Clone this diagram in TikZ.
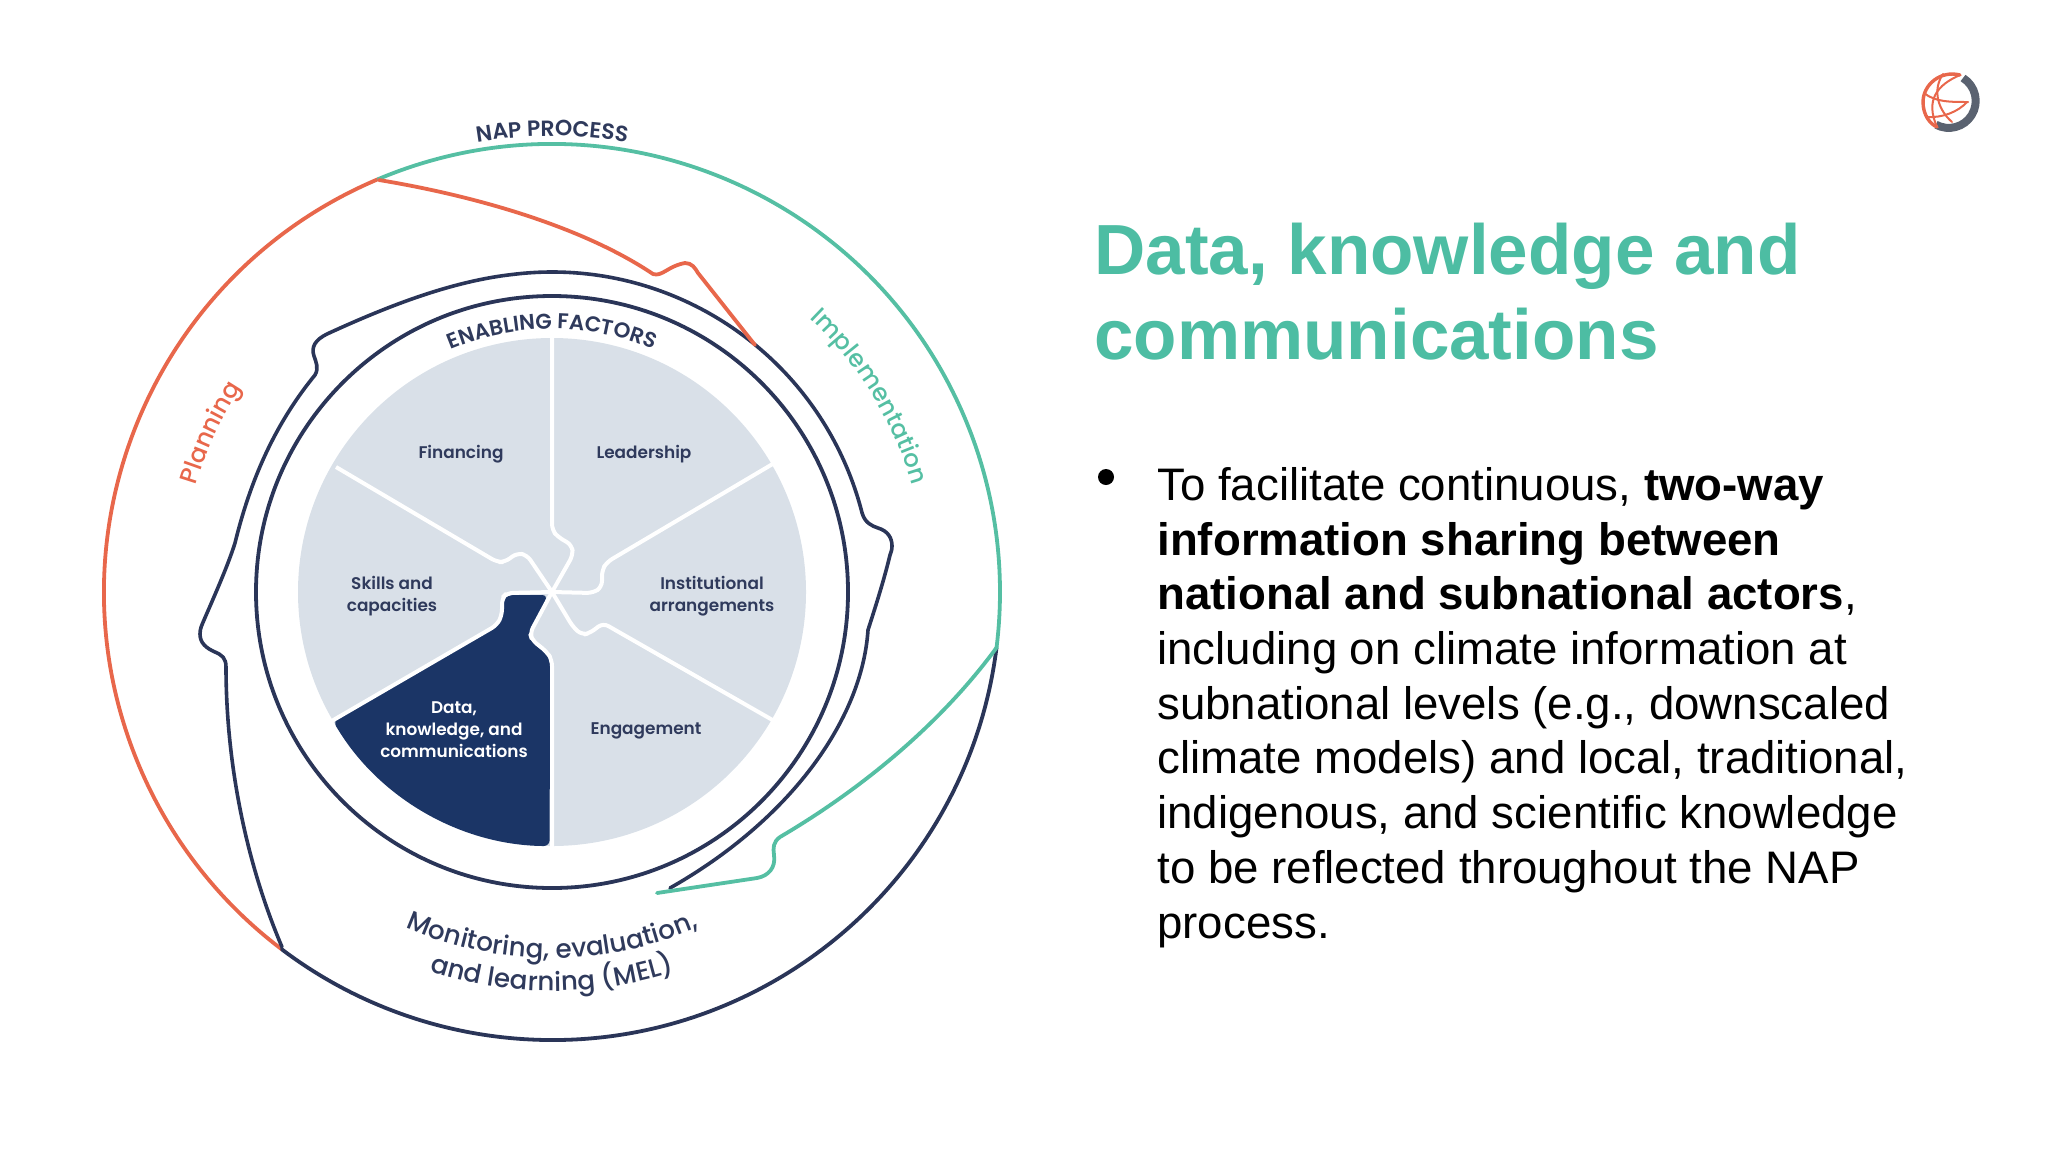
\documentclass[tikz,border=0pt]{standalone}
\usepackage{fontspec}
\usetikzlibrary{decorations.text}
\setmainfont{Liberation Sans}
\newfontfamily\popf{Poppins SemiBold}
\newfontfamily\popm{Poppins Medium}
\definecolor{navyline}{HTML}{2A3558}
\definecolor{navyfill}{HTML}{1B3566}
\definecolor{orangeline}{HTML}{E8674B}
\definecolor{tealline}{HTML}{55BFA3}
\definecolor{headteal}{HTML}{4DBDA3}
\definecolor{piefill}{HTML}{D9E0E8}
\definecolor{labelcol}{HTML}{2F3A5C}
\definecolor{logogray}{HTML}{5A6270}
\newcommand\fsSmall{\popf\fontsize{8.45}{11}\selectfont}
\newcommand\fsCap{\popf\fontsize{10.7}{12}\selectfont}
\newcommand\fsNap{\popf\fontsize{11}{12}\selectfont}
\newcommand\fsBig{\popm\fontsize{12.2}{14}\selectfont}
\newcommand\fsMel{\popm\fontsize{13.1}{14}\selectfont}
\tikzset{
  navy/.style={draw=navyline,line width=1.9pt,line join=round,line cap=round},
  headline/.style={navy,line width=1.8pt},
  orangel/.style={draw=orangeline,line width=1.9pt,line join=round,line cap=round},
  teall/.style={draw=tealline,line width=1.9pt,line join=round,line cap=round},
  divider/.style={draw=white,line width=2pt,line join=round},
  seclabel/.style={font=\fsSmall,text=labelcol,align=center,inner sep=0pt},
  logoline/.style={draw=orangeline,line width=1pt,line cap=round},
}
\begin{document}
\begin{tikzpicture}[x=0.5pt,y=-0.5pt]
\useasboundingbox (0,0) rectangle (2048,1152);
\coordinate (c) at (552,592);
% pie
\fill[piefill] (c) circle[radius=254];
\fill[navyfill,rounded corners=3pt] (548,595) -- (507,595) -- (503,600) -- (503,615) -- (497,626) -- (333,721) arc[start angle=149.5,end angle=90.5,radius=254] -- (550,660) -- (547,652) -- (532,640) -- (530,633) -- cycle;
% dividers
\draw[divider,rounded corners=3pt] (552,330) -- (552,530) -- (558,537) -- (572,545) -- (573,555) -- (552,592) -- (530,633) -- (532,640) -- (547,652) -- (552,660) -- (552,850);
\draw[divider,rounded corners=3pt] (336,467) -- (497,562) -- (505,562) -- (517,553) -- (527,555) -- (552,592) -- (573,627) -- (582,635) -- (590,633) -- (603,623) -- (776,722);
\draw[divider,rounded corners=3pt] (776,462) -- (607,562) -- (602,570) -- (602,587) -- (593,593) -- (552,592) -- (507,593) -- (502,598) -- (502,615) -- (497,625) -- (330,722);
% rings
\draw[navy] (c) circle[radius=296];
\draw[orangel] (c) ++(-112.8:448) arc[start angle=-112.8,end angle=-232.9,radius=448];
\draw[teall] (c) ++(-112.8:448) arc[start angle=-112.8,end angle=7.2,radius=448];
\draw[navy] (c) ++(7.2:448) arc[start angle=7.2,end angle=127.1,radius=448];
% head outline
\draw[headline] (282,947) .. controls (245,860) and (226,760) .. (226,667)
  .. controls (226,658) and (222,655) .. (215,652)
  .. controls (206,648) and (200,643) .. (200,634)
  .. controls (200,628) and (202,625) .. (204,620)
  .. controls (217,590) and (228,565) .. (235,543)
  .. controls (248,490) and (270,430) .. (315,375)
  .. controls (319,368) and (316,362) .. (314,356)
  .. controls (311,347) and (315,340) .. (327,334)
  .. controls (390,305) and (453,281) .. (513,274.4)
  arc[start angle=-97,end angle=-14.3,radius=320]
  .. controls (865,523) and (872,526) .. (878,528)
  .. controls (888,531) and (892,538) .. (892,546)
  .. controls (892,550) and (891,552) .. (890,555)
  .. controls (884,580) and (876,605) .. (868,630)
  .. controls (862,720) and (790,820) .. (670,888);
% orange return
\draw[orangel] (379,180) .. controls (470,195) and (580,225) .. (653,274) .. controls (662,277) and (668,266) .. (685,263) .. controls (692,263) and (695,268) .. (698,273) -- (755,345);
% teal return
\draw[teall] (997,647) .. controls (940,725) and (860,790) .. (780,837)
  .. controls (773,842) and (773,848) .. (774,855)
  .. controls (776,868) and (768,876) .. (757,878) -- (657,893);
% labels in pie
\node[seclabel] (financing) at (461,454) {Financing};
\node[seclabel] (leadership) at (644,454) {Leadership};
\node[seclabel] (skills) at (392,596) {Skills and\\capacities};
\node[seclabel] (instit) at (712,596) {Institutional\\arrangements};
\node[seclabel] (engage) at (646,731) {Engagement};
\node[seclabel,text=white] (datak) at (454,730) {Data,\\knowledge, and\\communications};
% curved labels
\path[decorate,decoration={text along path,text align=center,text={|\fsCap\color{labelcol}|ENABLING FACTORS}}] (c) ++(-140:263) arc[start angle=-140,end angle=-40,radius=263];
\path[decorate,decoration={text along path,text align=center,text={|\fsNap\color{labelcol}|NAP PROCESS}}] (c) ++(-130:456) arc[start angle=-130,end angle=-50,radius=456];
\path[decorate,decoration={text along path,text align=center,text={|\fsBig\color{orangeline}|Planning}}] (c) ++(-190:372) arc[start angle=-190,end angle=-120,radius=372];
\path[decorate,decoration={text along path,text align=center,text={|\fsBig\color{tealline}|Implementation}}] (c) ++(-71.6:376) arc[start angle=-71.6,end angle=8.4,radius=376];
\path[decorate,decoration={text along path,text align=center,text={|\fsMel\color{labelcol}|Monitoring, evaluation,}}] (c) ++(140:366) arc[start angle=140,end angle=40,radius=366];
\path[decorate,decoration={text along path,text align=center,text={|\fsMel\color{labelcol}|and learning (MEL)}}] (c) ++(130:399) arc[start angle=130,end angle=50,radius=399];
% right column
\node[anchor=north west,inner sep=0pt,align=left,text=headteal,font=\bfseries\fontsize{35.5}{42.5}\selectfont] (title) at (1094,223) {Data, knowledge and\\communications};
\fill[black] (1106,477) circle[radius=8];
\node[anchor=north west,inner sep=0pt,align=left,text=black,font=\fontsize{22.8}{27.35}\selectfont] (body) at (1157,467) {To facilitate continuous, \textbf{two-way}\\\textbf{information sharing between}\\\textbf{national and subnational actors},\\including on climate information at\\subnational levels (e.g., downscaled\\climate models) and local, traditional,\\indigenous, and scientific knowledge\\to be reflected throughout the NAP\\process.};
% logo
\draw[logogray,line width=4pt] (1963,78) arc[start angle=-58,end angle=118,radius=27];
\draw[orangeline,line width=1.7pt,line cap=round] (1960,75) .. controls (1940,70) and (1923,85) .. (1923,102) .. controls (1923,115) and (1930,124) .. (1937,127);
\draw[logoline] (1960,75) .. controls (1937,85) and (1925,100) .. (1937,127);
\draw[logoline] (1943,74) .. controls (1932,90) and (1938,110) .. (1952,122);
\draw[logoline] (1924,93) .. controls (1935,102) and (1950,102) .. (1968,102);
\draw[logoline] (1927,117) .. controls (1942,118) and (1958,112) .. (1967,102);
\end{tikzpicture}
\end{document}
